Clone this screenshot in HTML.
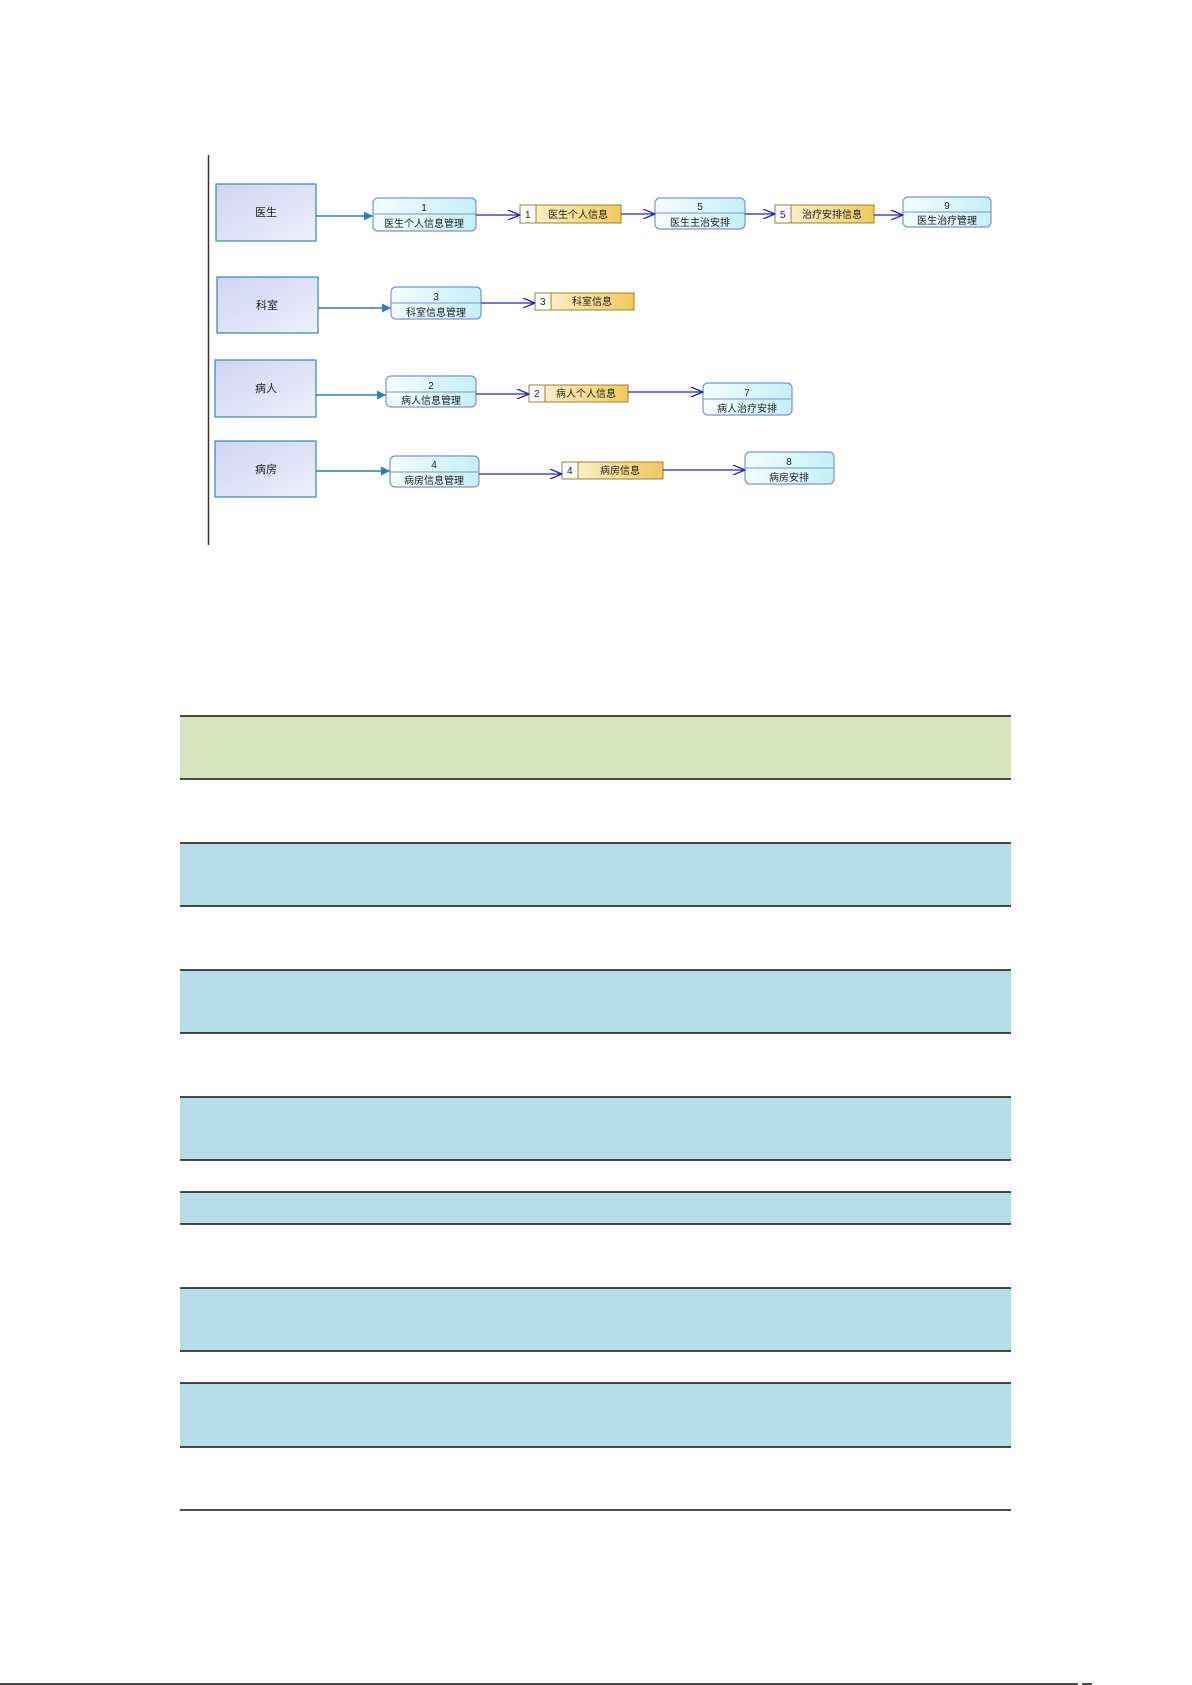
<!DOCTYPE html>
<html><head><meta charset="utf-8"><style>
html,body{margin:0;padding:0;background:#fff;}
svg{display:block;}
text{font-family:"Liberation Sans","Noto Sans CJK SC",sans-serif;fill:#222;}
</style></head><body>
<svg width="1192" height="1685" viewBox="0 0 1192 1685" xmlns="http://www.w3.org/2000/svg">
<defs>
<linearGradient id="ent" x1="0" y1="0" x2="1" y2="1"><stop offset="0" stop-color="#cfd4f3"/><stop offset="1" stop-color="#eef0fb"/></linearGradient>
<linearGradient id="proc" x1="0" y1="0" x2="1" y2="0"><stop offset="0" stop-color="#f4fdff"/><stop offset="1" stop-color="#c4f1fa"/></linearGradient>
<linearGradient id="store" x1="0" y1="0" x2="1" y2="0"><stop offset="0" stop-color="#fff4d8"/><stop offset="1" stop-color="#f2c95a"/></linearGradient>
<marker id="fa" viewBox="0 0 10 10" refX="10" refY="5" markerWidth="14" markerHeight="9" orient="auto" markerUnits="userSpaceOnUse"><path d="M0,0 L10,5 L0,10 z" fill="#2a7fc0"/></marker>
<marker id="oa" viewBox="0 0 12 10" refX="12" refY="5" markerWidth="13" markerHeight="10" orient="auto" markerUnits="userSpaceOnUse"><path d="M0,0 L12,5 L0,10" fill="none" stroke="#2424c8" stroke-width="1.3"/></marker>
</defs>

<line x1="208.5" y1="155" x2="208.5" y2="545" stroke="#333" stroke-width="1.5"/>

<g stroke="#3f8cc8" stroke-width="1.3" fill="url(#ent)">
<rect x="216" y="184" width="100" height="57"/>
<rect x="217" y="277" width="101" height="56"/>
<rect x="215" y="360" width="101" height="57"/>
<rect x="215" y="441" width="101" height="56"/>
</g>
<g font-size="11" text-anchor="middle">
<text x="266" y="216">医生</text>
<text x="267" y="309">科室</text>
<text x="266" y="392">病人</text>
<text x="266" y="473">病房</text>
</g>

<g stroke="#2a7fc0" stroke-width="1.5" fill="none" marker-end="url(#fa)">
<line x1="316" y1="216" x2="373" y2="216"/>
<line x1="318" y1="308" x2="391" y2="308"/>
<line x1="316" y1="395" x2="386" y2="395"/>
<line x1="316" y1="471" x2="390" y2="471"/>
</g>

<g font-size="10" text-anchor="middle">
<g><rect x="373" y="198" width="103" height="33" rx="5" fill="url(#proc)" stroke="#7f8ee0" stroke-width="1.2"/><line x1="373" y1="214" x2="476" y2="214" stroke="#7f8ee0"/><text x="424" y="211">1</text><text x="424" y="227">医生个人信息管理</text></g>
<g><rect x="655" y="198" width="90" height="31" rx="5" fill="url(#proc)" stroke="#7f8ee0" stroke-width="1.2"/><line x1="655" y1="213" x2="745" y2="213" stroke="#7f8ee0"/><text x="700" y="210">5</text><text x="700" y="226">医生主治安排</text></g>
<g><rect x="903" y="197" width="88" height="30" rx="5" fill="url(#proc)" stroke="#7f8ee0" stroke-width="1.2"/><line x1="903" y1="212" x2="991" y2="212" stroke="#7f8ee0"/><text x="947" y="209">9</text><text x="947" y="224">医生治疗管理</text></g>
<g><rect x="391" y="287" width="90" height="32" rx="5" fill="url(#proc)" stroke="#7f8ee0" stroke-width="1.2"/><line x1="391" y1="303" x2="481" y2="303" stroke="#7f8ee0"/><text x="436" y="300">3</text><text x="436" y="316">科室信息管理</text></g>
<g><rect x="386" y="376" width="90" height="31" rx="5" fill="url(#proc)" stroke="#7f8ee0" stroke-width="1.2"/><line x1="386" y1="392" x2="476" y2="392" stroke="#7f8ee0"/><text x="431" y="389">2</text><text x="431" y="404">病人信息管理</text></g>
<g><rect x="703" y="383" width="89" height="32" rx="5" fill="url(#proc)" stroke="#7f8ee0" stroke-width="1.2"/><line x1="703" y1="399" x2="792" y2="399" stroke="#7f8ee0"/><text x="747" y="396">7</text><text x="747" y="412">病人治疗安排</text></g>
<g><rect x="390" y="456" width="89" height="31" rx="5" fill="url(#proc)" stroke="#7f8ee0" stroke-width="1.2"/><line x1="390" y1="472" x2="479" y2="472" stroke="#7f8ee0"/><text x="434" y="468">4</text><text x="434" y="484">病房信息管理</text></g>
<g><rect x="745" y="452" width="89" height="32" rx="5" fill="url(#proc)" stroke="#7f8ee0" stroke-width="1.2"/><line x1="745" y1="468" x2="834" y2="468" stroke="#7f8ee0"/><text x="789" y="465">8</text><text x="789" y="481">病房安排</text></g>
</g>

<g font-size="10">
<g><rect x="520" y="205" width="101" height="18" fill="url(#store)" stroke="#9a8430"/><rect x="520" y="205" width="16" height="18" fill="#fff" stroke="#9a8430"/><text x="525" y="218">1</text><text x="578" y="218" text-anchor="middle">医生个人信息</text></g>
<g><rect x="535" y="293" width="99" height="17" fill="url(#store)" stroke="#9a8430"/><rect x="535" y="293" width="16" height="17" fill="#fff" stroke="#9a8430"/><text x="540" y="305">3</text><text x="592" y="305" text-anchor="middle">科室信息</text></g>
<g><rect x="529" y="385" width="99" height="17" fill="url(#store)" stroke="#9a8430"/><rect x="529" y="385" width="16" height="17" fill="#fff" stroke="#9a8430"/><text x="534" y="397">2</text><text x="586" y="397" text-anchor="middle">病人个人信息</text></g>
<g><rect x="562" y="462" width="101" height="17" fill="url(#store)" stroke="#9a8430"/><rect x="562" y="462" width="16" height="17" fill="#fff" stroke="#9a8430"/><text x="567" y="474">4</text><text x="620" y="474" text-anchor="middle">病房信息</text></g>
<g><rect x="775" y="205" width="99" height="18" fill="url(#store)" stroke="#9a8430"/><rect x="775" y="205" width="16" height="18" fill="#fff" stroke="#9a8430"/><text x="780" y="218">5</text><text x="832" y="218" text-anchor="middle">治疗安排信息</text></g>
</g>

<g stroke="#2424c8" stroke-width="1.3" fill="none" marker-end="url(#oa)">
<line x1="476" y1="215" x2="520" y2="215"/>
<line x1="621" y1="214" x2="655" y2="214"/>
<line x1="745" y1="214" x2="775" y2="214"/>
<line x1="874" y1="215" x2="903" y2="215"/>
<line x1="481" y1="303" x2="535" y2="303"/>
<line x1="476" y1="394" x2="529" y2="394"/>
<line x1="628" y1="392" x2="703" y2="392"/>
<line x1="479" y1="474" x2="562" y2="474"/>
<line x1="663" y1="470" x2="745" y2="470"/>
</g>

<rect x="180" y="716" width="831" height="63" fill="#d8e4bd"/>
<g fill="#b8dde8">
<rect x="180" y="843" width="831" height="63"/>
<rect x="180" y="970" width="831" height="63"/>
<rect x="180" y="1097" width="831" height="63"/>
<rect x="180" y="1192" width="831" height="32"/>
<rect x="180" y="1288" width="831" height="63"/>
<rect x="180" y="1383" width="831" height="64"/>
</g>
<g stroke="#111" stroke-width="1.5">
<line x1="180" y1="716" x2="1011" y2="716"/>
<line x1="180" y1="779" x2="1011" y2="779"/>
<line x1="180" y1="843" x2="1011" y2="843"/>
<line x1="180" y1="906" x2="1011" y2="906"/>
<line x1="180" y1="970" x2="1011" y2="970"/>
<line x1="180" y1="1033" x2="1011" y2="1033"/>
<line x1="180" y1="1097" x2="1011" y2="1097"/>
<line x1="180" y1="1160" x2="1011" y2="1160"/>
<line x1="180" y1="1192" x2="1011" y2="1192"/>
<line x1="180" y1="1224" x2="1011" y2="1224"/>
<line x1="180" y1="1288" x2="1011" y2="1288"/>
<line x1="180" y1="1351" x2="1011" y2="1351"/>
<line x1="180" y1="1383" x2="1011" y2="1383"/>
<line x1="180" y1="1447" x2="1011" y2="1447"/>
<line x1="180" y1="1510" x2="1011" y2="1510"/>
</g>
<line x1="0" y1="1684" x2="1078" y2="1684" stroke="#111" stroke-width="1.5"/>
<line x1="1082" y1="1684" x2="1092" y2="1684" stroke="#111" stroke-width="1.5"/>
</svg>
</body></html>
